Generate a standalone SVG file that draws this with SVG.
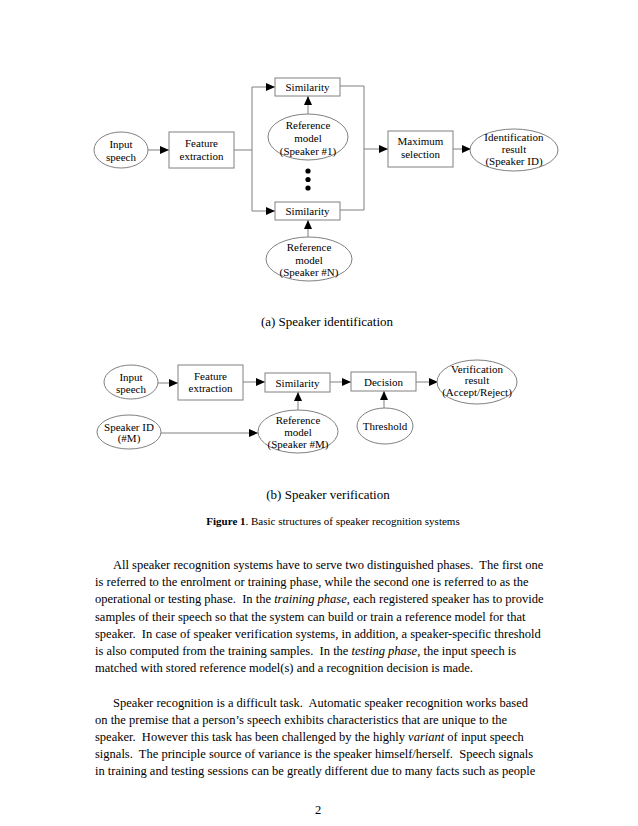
<svg xmlns="http://www.w3.org/2000/svg" width="638" height="826" viewBox="0 0 638 826">
<style>
.shape{fill:#fff;stroke:#808080;stroke-width:1}
.ln{fill:none;stroke:#808080;stroke-width:1}
.t{font-family:"Liberation Serif","Times New Roman",serif;font-size:11px;fill:#000;text-anchor:middle;dominant-baseline:central}
.cap{font-family:"Liberation Serif","Times New Roman",serif;font-size:13px;fill:#000;text-anchor:middle}
.fig{font-family:"Liberation Serif","Times New Roman",serif;font-size:11px;fill:#000;text-anchor:middle}
.body{font-family:"Liberation Serif","Times New Roman",serif;font-size:12.5px;fill:#000;white-space:pre}
</style>
<defs>
<marker id="ah" markerWidth="9" markerHeight="8" refX="9" refY="4" orient="auto" markerUnits="userSpaceOnUse">
<path d="M0,0 L9,4 L0,8 Z" fill="#000"/>
</marker>
</defs>
<rect width="638" height="826" fill="#fff"/>

<!-- (a) Speaker identification -->
<g id="connectors-a">
<line class="ln" x1="148" y1="150" x2="169" y2="150" marker-end="url(#ah)"/>
<polyline class="ln" points="234,150 252,150"/>
<polyline class="ln" points="252,211 252,87 275,87" marker-end="url(#ah)"/>
<line class="ln" x1="252" y1="211" x2="275" y2="211" marker-end="url(#ah)"/>
<line class="ln" x1="308" y1="114" x2="308" y2="96" marker-end="url(#ah)"/>
<line class="ln" x1="308" y1="237" x2="308" y2="220" marker-end="url(#ah)"/>
<polyline class="ln" points="340,86 364,86 364,210 340,210"/>
<line class="ln" x1="364" y1="149" x2="388" y2="149" marker-end="url(#ah)"/>
<line class="ln" x1="453" y1="149" x2="471" y2="149" marker-end="url(#ah)"/>
</g>
<g id="input-speech-a">
<ellipse class="shape" cx="121" cy="150" rx="27" ry="18"/>
<text class="t" x="121" y="144">Input</text>
<text class="t" x="121" y="157">speech</text>
</g>
<g id="feature-a">
<rect class="shape" x="169" y="132" width="65" height="36"/>
<text class="t" x="201.5" y="143">Feature</text>
<text class="t" x="201.5" y="156">extraction</text>
</g>
<g id="similarity-1">
<rect class="shape" x="275" y="78" width="65" height="18"/>
<text class="t" x="307.5" y="87">Similarity</text>
</g>
<g id="refmodel-1">
<ellipse class="shape" cx="308" cy="137" rx="40" ry="23"/>
<text class="t" x="308" y="125">Reference</text>
<text class="t" x="308" y="138">model</text>
<text class="t" x="308" y="151">(Speaker #1)</text>
</g>
<g id="dots">
<circle cx="308" cy="171" r="2.6" fill="#000"/>
<circle cx="308" cy="179.5" r="2.6" fill="#000"/>
<circle cx="308" cy="188" r="2.6" fill="#000"/>
</g>
<g id="similarity-n">
<rect class="shape" x="275" y="202" width="65" height="18"/>
<text class="t" x="307.5" y="211">Similarity</text>
</g>
<g id="refmodel-n">
<ellipse class="shape" cx="309" cy="259" rx="43" ry="22"/>
<text class="t" x="309" y="247">Reference</text>
<text class="t" x="309" y="260">model</text>
<text class="t" x="309" y="272">(Speaker #N)</text>
</g>
<g id="max-selection">
<rect class="shape" x="388" y="131" width="65" height="36"/>
<text class="t" x="420.5" y="141">Maximum</text>
<text class="t" x="420.5" y="154">selection</text>
</g>
<g id="ident-result">
<ellipse class="shape" cx="514" cy="150" rx="44" ry="21"/>
<text class="t" x="514" y="137">Identification</text>
<text class="t" x="514" y="149">result</text>
<text class="t" x="514" y="161">(Speaker ID)</text>
</g>
<text class="cap" x="327" y="326">(a) Speaker identification</text>

<!-- (b) Speaker verification -->
<g id="connectors-b">
<line class="ln" x1="158" y1="383" x2="178" y2="383" marker-end="url(#ah)"/>
<line class="ln" x1="243" y1="382" x2="265" y2="382" marker-end="url(#ah)"/>
<line class="ln" x1="330" y1="382" x2="351" y2="382" marker-end="url(#ah)"/>
<line class="ln" x1="416" y1="382" x2="438" y2="382" marker-end="url(#ah)"/>
<line class="ln" x1="384" y1="408" x2="384" y2="391" marker-end="url(#ah)"/>
<line class="ln" x1="161" y1="433" x2="258" y2="433" marker-end="url(#ah)"/>
<line class="ln" x1="298" y1="410" x2="298" y2="392" marker-end="url(#ah)"/>
</g>
<g id="input-speech-b">
<ellipse class="shape" cx="131" cy="382" rx="27" ry="17"/>
<text class="t" x="131" y="377">Input</text>
<text class="t" x="131" y="389">speech</text>
</g>
<g id="feature-b">
<rect class="shape" x="178" y="365" width="65" height="35"/>
<text class="t" x="210.5" y="376">Feature</text>
<text class="t" x="210.5" y="388">extraction</text>
</g>
<g id="similarity-b">
<rect class="shape" x="265" y="373" width="65" height="19"/>
<text class="t" x="297.5" y="382.5">Similarity</text>
</g>
<g id="decision">
<rect class="shape" x="351" y="372" width="65" height="19"/>
<text class="t" x="383.5" y="381.5">Decision</text>
</g>
<g id="verif-result">
<ellipse class="shape" cx="477" cy="382" rx="40" ry="22"/>
<text class="t" x="477" y="369">Verification</text>
<text class="t" x="477" y="380">result</text>
<text class="t" x="477" y="392">(Accept/Reject)</text>
</g>
<g id="threshold">
<ellipse class="shape" cx="385" cy="426" rx="28" ry="18"/>
<text class="t" x="385" y="426">Threshold</text>
</g>
<g id="speaker-id">
<ellipse class="shape" cx="129" cy="432" rx="32" ry="17"/>
<text class="t" x="129" y="427">Speaker ID</text>
<text class="t" x="129" y="438">(#M)</text>
</g>
<g id="refmodel-m">
<ellipse class="shape" cx="298" cy="431.5" rx="40" ry="21.5"/>
<text class="t" x="298" y="420">Reference</text>
<text class="t" x="298" y="432">model</text>
<text class="t" x="298" y="444">(Speaker #M)</text>
</g>
<text class="cap" x="328" y="499">(b) Speaker verification</text>
<text class="fig" x="333" y="525"><tspan font-weight="bold">Figure 1</tspan>. Basic structures of speaker recognition systems</text>

<!-- body text -->
<g id="body">
<text class="body" x="113" y="569">All speaker recognition systems have to serve two distinguished phases.  The first one</text>
<text class="body" x="95" y="586.2">is referred to the enrolment or training phase, while the second one is referred to as the</text>
<text class="body" x="95" y="603.4">operational or testing phase.  In the <tspan font-style="italic">training phase</tspan>, each registered speaker has to provide</text>
<text class="body" x="95" y="620.6">samples of their speech so that the system can build or train a reference model for that</text>
<text class="body" x="95" y="637.8">speaker.  In case of speaker verification systems, in addition, a speaker-specific threshold</text>
<text class="body" x="95" y="655">is also computed from the training samples.  In the <tspan font-style="italic">testing phase</tspan>, the input speech is</text>
<text class="body" x="95" y="672.2">matched with stored reference model(s) and a recognition decision is made.</text>
<text class="body" x="113" y="706.6">Speaker recognition is a difficult task.  Automatic speaker recognition works based</text>
<text class="body" x="95" y="723.8">on the premise that a person’s speech exhibits characteristics that are unique to the</text>
<text class="body" x="95" y="741">speaker.  However this task has been challenged by the highly <tspan font-style="italic">variant</tspan> of input speech</text>
<text class="body" x="95" y="758.2">signals.  The principle source of variance is the speaker himself/herself.  Speech signals</text>
<text class="body" x="95" y="775.4">in training and testing sessions can be greatly different due to many facts such as people</text>
<text class="body" x="318" y="814" text-anchor="middle">2</text>
</g>
</svg>
